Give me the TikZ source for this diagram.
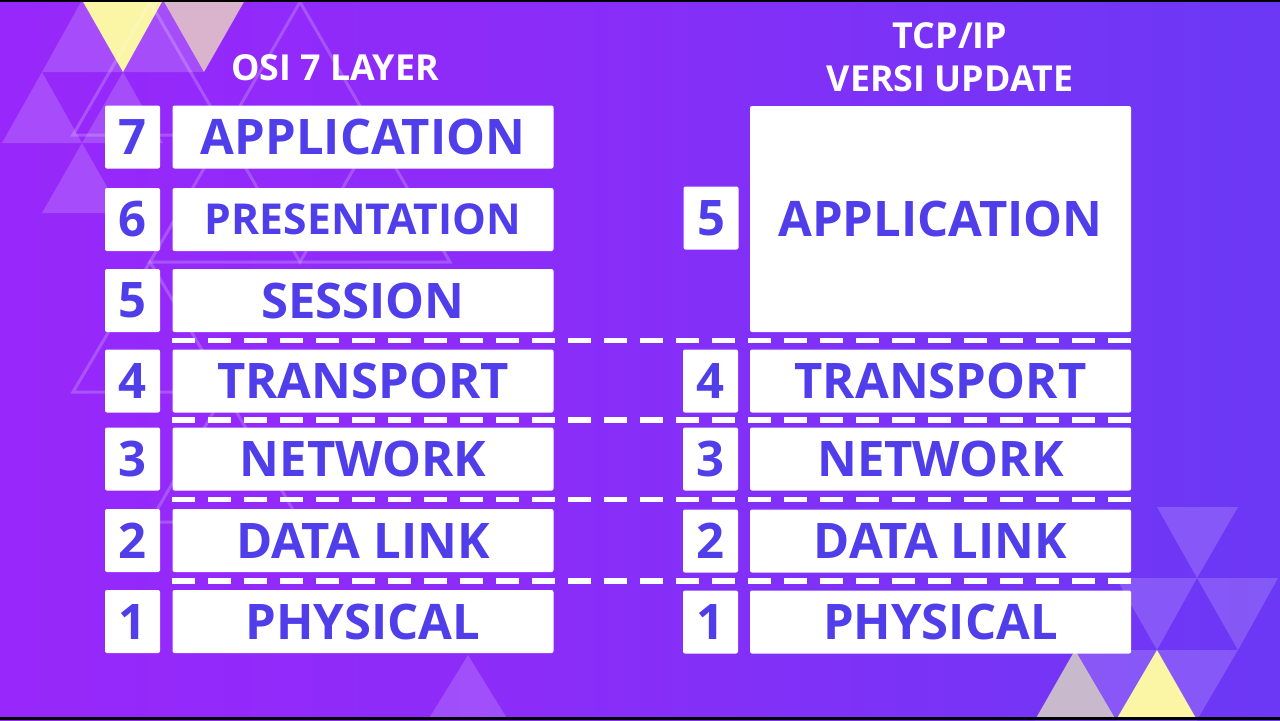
\documentclass[tikz,border=0pt]{standalone}
\usepackage{fontspec}
\setmainfont{Open Sans}
\usetikzlibrary{calc}

\definecolor{ink}{RGB}{80,62,234}
\definecolor{bgleft}{RGB}{166,33,252}
\definecolor{bgmid}{RGB}{140,44,249}
\definecolor{bgblue}{RGB}{96,60,244}
\definecolor{bgright}{RGB}{86,64,242}
\definecolor{lemon}{RGB}{250,246,166}
\definecolor{rose}{RGB}{218,180,204}
\definecolor{ash}{RGB}{200,186,204}

\pgfdeclarehorizontalshading{backdrop}{100bp}{color(0bp)=(bgleft); color(45bp)=(bgmid); color(85bp)=(bgblue); color(100bp)=(bgright)}

\tikzset{
	numbox/.style = {fill=white, rounded corners=1pt, inner sep=0pt,
		minimum width=27.5pt, minimum height=31.5pt, text=ink,
		font=\bfseries\fontsize{24.5}{24.5}\selectfont},
	laybox/.style = {numbox, minimum width=190.5pt},
	title/.style = {text=white, align=center,
		font=\bfseries\fontsize{17.9}{21.5}\selectfont},
	sep/.style = {white, line width=2.6pt, dash pattern=on 11.5pt off 6.5pt},
	glass/.style = {fill=white, fill opacity=0.17},
	wire/.style = {draw=white, draw opacity=0.2, line width=1.5pt},
}

\begin{document}
\begin{tikzpicture}[x=0.5pt, y=-0.5pt]
		\useasboundingbox (0, 0) rectangle (1280, 720);
		\fill[shading=backdrop] (0, 0) rectangle (1280, 720);

		% triangles, top left
		\fill[glass] (42, 72) -- (123, 72) -- (82, 0) -- cycle;
		\fill[glass] (123, 72) -- (204, 72) -- (163, 0) -- cycle;
		\fill[glass] (2, 143) -- (82, 143) -- (42, 72) -- cycle;
		\fill[glass] (82, 143) -- (163, 143) -- (123, 72) -- cycle;
		\fill[glass] (42, 213) -- (122, 213) -- (82, 143) -- cycle;
		\fill[lemon] (82, 0) -- (163, 0) -- (123, 72) -- cycle;
		\fill[rose] (163, 0) -- (245, 0) -- (204, 72) -- cycle;
		\draw[wire] (73, 135) -- (227, 135) -- (150, 2) -- cycle;
		\draw[wire] (150, 262) -- (450, 262) -- (300, 2) -- cycle;
		\draw[wire] (225, 132) -- (375, 132) -- (300, 262) -- cycle;
		\draw[wire] (73, 392) -- (227, 392) -- (150, 262) -- cycle;
		\draw[wire] (150, 522) -- (300, 522) -- (225, 392) -- cycle;
		\fill[glass] (428, 720) -- (508, 720) -- (468, 655) -- cycle;

		% triangles, bottom right
		\fill[glass] (1157, 507) -- (1238, 507) -- (1197, 578) -- cycle;
		\fill[glass] (1116, 578) -- (1197, 578) -- (1157, 650) -- cycle;
		\fill[glass] (1197, 578) -- (1278, 578) -- (1238, 650) -- cycle;
		\fill[glass] (1075, 650) -- (1157, 650) -- (1116, 720) -- cycle;
		\fill[glass] (1157, 650) -- (1238, 650) -- (1197, 720) -- cycle;
		\fill[ash] (1035, 720) -- (1116, 720) -- (1075, 650) -- cycle;
		\fill[lemon] (1116, 720) -- (1197, 720) -- (1157, 650) -- cycle;

		\fill[black] (0, 0) rectangle (1280, 2);
		\fill[black] (0, 717) rectangle (1280, 720);

		\path (335, 68) node (osititle) [title] {OSI 7 LAYER};
		\path (950, 57) node (tcptitle) [title] {TCP/IP\\VERSI UPDATE};

		\path (132.5, 137)   node (osinum7) [numbox] {7};
		\path (132.5, 219.5) node (osinum6) [numbox] {6};
		\path (132.5, 300.5) node (osinum5) [numbox] {5};
		\path (132.5, 381)   node (osinum4) [numbox] {4};
		\path (132.5, 459)   node (osinum3) [numbox] {3};
		\path (132.5, 540.5) node (osinum2) [numbox] {2};
		\path (132.5, 621.5) node (osinum1) [numbox] {1};

		\path (363, 137)   node (osi7) [laybox] {APPLICATION};
		\path (363, 219.5) node (osi6) [laybox]
			{\fontsize{21.3}{21.3}\selectfont PRESENTATION};
		\path (363, 300.5) node (osi5) [laybox] {SESSION};
		\path (363, 381)   node (osi4) [laybox] {TRANSPORT};
		\path (363, 459)   node (osi3) [laybox] {NETWORK};
		\path (363, 540.5) node (osi2) [laybox] {DATA LINK};
		\path (363, 621.5) node (osi1) [laybox] {PHYSICAL};

		\path (711, 218)   node (tcpnum5) [numbox] {5};
		\path (710.5, 381) node (tcpnum4) [numbox] {4};
		\path (710.5, 459) node (tcpnum3) [numbox] {3};
		\path (710.5, 541) node (tcpnum2) [numbox] {2};
		\path (710.5, 622) node (tcpnum1) [numbox] {1};

		\path (940.5, 219) node (tcp5) [laybox, minimum height=113pt] {APPLICATION};
		\path (940.5, 381) node (tcp4) [laybox] {TRANSPORT};
		\path (940.5, 459) node (tcp3) [laybox] {NETWORK};
		\path (940.5, 541) node (tcp2) [laybox] {DATA LINK};
		\path (940.5, 622) node (tcp1) [laybox] {PHYSICAL};

		\coordinate (cut4) at ($(osi5.south west)!.5!(osi4.north west)$);
		\coordinate (cut3) at ($(osi4.south west)!.5!(osi3.north west)$);
		\coordinate (cut2) at ($(osi3.south west)!.5!(osi2.north west)$);
		\coordinate (cut1) at ($(osi2.south west)!.5!(osi1.north west)$);
		\draw[sep] (cut4) -- (cut4 -| tcp4.east);
		\draw[sep] (cut3) -- (cut3 -| tcp3.east);
		\draw[sep] (cut2) -- (cut2 -| tcp2.east);
		\draw[sep] (cut1) -- (cut1 -| tcp1.east);
	\end{tikzpicture}
\end{document}
